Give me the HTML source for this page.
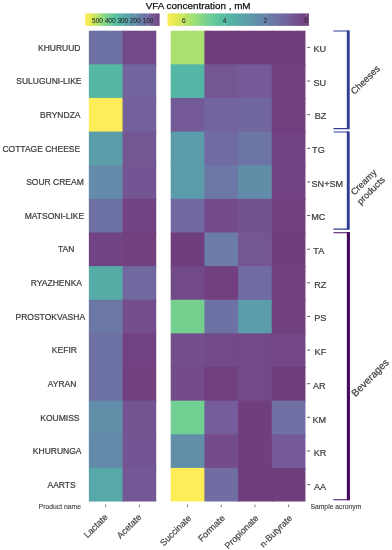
<!DOCTYPE html>
<html><head><meta charset="utf-8"><title>VFA concentration heatmap</title>
<style>html,body{margin:0;padding:0;background:#fff;}svg{display:block}text{font-family:"Liberation Sans",Arial,sans-serif;}</style></head><body>
<svg width="392" height="550" viewBox="0 0 392 550">
<rect width="392" height="550" fill="#fff"/>
<defs><linearGradient id="gl" x1="0" y1="0" x2="1" y2="0"><stop offset="0.0000" stop-color="#feed59"/><stop offset="0.0625" stop-color="#e7ea50"/><stop offset="0.1250" stop-color="#c7e65e"/><stop offset="0.1875" stop-color="#a7e073"/><stop offset="0.2500" stop-color="#8ad884"/><stop offset="0.3125" stop-color="#71ce93"/><stop offset="0.3750" stop-color="#5ec49d"/><stop offset="0.4375" stop-color="#55b9a4"/><stop offset="0.5000" stop-color="#55ada7"/><stop offset="0.5625" stop-color="#59a2a9"/><stop offset="0.6250" stop-color="#5e96a9"/><stop offset="0.6875" stop-color="#638ba9"/><stop offset="0.7500" stop-color="#697ea7"/><stop offset="0.8125" stop-color="#6e71a4"/><stop offset="0.8750" stop-color="#73629d"/><stop offset="0.9375" stop-color="#745391"/><stop offset="1.0000" stop-color="#724181"/></linearGradient><linearGradient id="gr" x1="0" y1="0" x2="1" y2="0"><stop offset="0.0000" stop-color="#feed59"/><stop offset="0.0625" stop-color="#dfe951"/><stop offset="0.1250" stop-color="#bfe463"/><stop offset="0.1875" stop-color="#9fde77"/><stop offset="0.2500" stop-color="#81d589"/><stop offset="0.3125" stop-color="#6acb96"/><stop offset="0.3750" stop-color="#5ac09f"/><stop offset="0.4375" stop-color="#54b4a5"/><stop offset="0.5000" stop-color="#57a9a8"/><stop offset="0.5625" stop-color="#5b9ea9"/><stop offset="0.6250" stop-color="#6091a9"/><stop offset="0.6875" stop-color="#6585a8"/><stop offset="0.7500" stop-color="#6b78a6"/><stop offset="0.8125" stop-color="#7169a1"/><stop offset="0.8750" stop-color="#745a97"/><stop offset="0.9375" stop-color="#734a89"/><stop offset="1.0000" stop-color="#713e7d"/></linearGradient></defs>
<text x="198.2" y="9.3" font-size="9.9" text-anchor="middle" fill="#111" stroke="#111" stroke-width=".25">VFA concentration , mM</text>
<rect x="85.2" y="13.4" width="74.4" height="12.5" fill="url(#gl)"/>
<rect x="167.5" y="13.4" width="141.4" height="12.5" fill="url(#gr)"/>
<path d="M97.55 13.4v2.5M97.55 25.9v-2.5" stroke="#fff" stroke-opacity=".45" stroke-width=".5"/>
<text x="97.55" y="23" font-size="6.5" text-anchor="middle" fill="#262626" stroke="#262626" stroke-width=".06">500</text>
<path d="M110.18 13.4v2.5M110.18 25.9v-2.5" stroke="#fff" stroke-opacity=".45" stroke-width=".5"/>
<text x="110.18" y="23" font-size="6.5" text-anchor="middle" fill="#262626" stroke="#262626" stroke-width=".06">400</text>
<path d="M122.81 13.4v2.5M122.81 25.9v-2.5" stroke="#fff" stroke-opacity=".45" stroke-width=".5"/>
<text x="122.81" y="23" font-size="6.5" text-anchor="middle" fill="#262626" stroke="#262626" stroke-width=".06">300</text>
<path d="M135.44 13.4v2.5M135.44 25.9v-2.5" stroke="#fff" stroke-opacity=".45" stroke-width=".5"/>
<text x="135.44" y="23" font-size="6.5" text-anchor="middle" fill="#262626" stroke="#262626" stroke-width=".06">200</text>
<path d="M148.07 13.4v2.5M148.07 25.9v-2.5" stroke="#fff" stroke-opacity=".45" stroke-width=".5"/>
<text x="148.07" y="23" font-size="6.5" text-anchor="middle" fill="#262626" stroke="#262626" stroke-width=".06">100</text>
<path d="M183.70 13.4v2.5M183.70 25.9v-2.5" stroke="#fff" stroke-opacity=".45" stroke-width=".5"/>
<text x="183.70" y="23" font-size="6.5" text-anchor="middle" fill="#262626" stroke="#262626" stroke-width=".06">6</text>
<path d="M224.50 13.4v2.5M224.50 25.9v-2.5" stroke="#fff" stroke-opacity=".45" stroke-width=".5"/>
<text x="224.50" y="23" font-size="6.5" text-anchor="middle" fill="#262626" stroke="#262626" stroke-width=".06">4</text>
<path d="M265.30 13.4v2.5M265.30 25.9v-2.5" stroke="#fff" stroke-opacity=".45" stroke-width=".5"/>
<text x="265.30" y="23" font-size="6.5" text-anchor="middle" fill="#262626" stroke="#262626" stroke-width=".06">2</text>
<path d="M306.10 13.4v2.5M306.10 25.9v-2.5" stroke="#fff" stroke-opacity=".45" stroke-width=".5"/>
<text x="306.10" y="23" font-size="6.5" text-anchor="middle" fill="#262626" stroke="#262626" stroke-width=".06">0</text>
<g>
<rect x="88.85" y="30.70" width="34.89" height="34.83" fill="#6e71a4"/>
<rect x="122.54" y="30.70" width="33.69" height="34.83" fill="#734a89"/>
<rect x="170.70" y="30.70" width="34.89" height="34.83" fill="#abe070"/>
<rect x="204.39" y="30.70" width="34.89" height="34.83" fill="#713e7d"/>
<rect x="238.08" y="30.70" width="34.89" height="34.83" fill="#713e7d"/>
<rect x="271.77" y="30.70" width="33.69" height="34.83" fill="#713e7d"/>
<rect x="88.85" y="64.33" width="34.89" height="34.83" fill="#55b8a4"/>
<rect x="122.54" y="64.33" width="33.69" height="34.83" fill="#72659e"/>
<rect x="170.70" y="64.33" width="34.89" height="34.83" fill="#54b6a5"/>
<rect x="204.39" y="64.33" width="34.89" height="34.83" fill="#745693"/>
<rect x="238.08" y="64.33" width="34.89" height="34.83" fill="#745a97"/>
<rect x="271.77" y="64.33" width="33.69" height="34.83" fill="#713f7e"/>
<rect x="88.85" y="97.96" width="34.89" height="34.83" fill="#feed59"/>
<rect x="122.54" y="97.96" width="33.69" height="34.83" fill="#73609c"/>
<rect x="170.70" y="97.96" width="34.89" height="34.83" fill="#745b98"/>
<rect x="204.39" y="97.96" width="34.89" height="34.83" fill="#72649e"/>
<rect x="238.08" y="97.96" width="34.89" height="34.83" fill="#72669f"/>
<rect x="271.77" y="97.96" width="33.69" height="34.83" fill="#713f7e"/>
<rect x="88.85" y="131.59" width="34.89" height="34.83" fill="#5b9da9"/>
<rect x="122.54" y="131.59" width="33.69" height="34.83" fill="#745693"/>
<rect x="170.70" y="131.59" width="34.89" height="34.83" fill="#5c9ba9"/>
<rect x="204.39" y="131.59" width="34.89" height="34.83" fill="#706ba2"/>
<rect x="238.08" y="131.59" width="34.89" height="34.83" fill="#6d75a5"/>
<rect x="271.77" y="131.59" width="33.69" height="34.83" fill="#724181"/>
<rect x="88.85" y="165.22" width="34.89" height="34.83" fill="#628ca9"/>
<rect x="122.54" y="165.22" width="33.69" height="34.83" fill="#745492"/>
<rect x="170.70" y="165.22" width="34.89" height="34.83" fill="#5c9ba9"/>
<rect x="204.39" y="165.22" width="34.89" height="34.83" fill="#6b78a6"/>
<rect x="238.08" y="165.22" width="34.89" height="34.83" fill="#628da9"/>
<rect x="271.77" y="165.22" width="33.69" height="34.83" fill="#724181"/>
<rect x="88.85" y="198.85" width="34.89" height="34.83" fill="#6e71a4"/>
<rect x="122.54" y="198.85" width="33.69" height="34.83" fill="#724282"/>
<rect x="170.70" y="198.85" width="34.89" height="34.83" fill="#7169a1"/>
<rect x="204.39" y="198.85" width="34.89" height="34.83" fill="#744c8b"/>
<rect x="238.08" y="198.85" width="34.89" height="34.83" fill="#745290"/>
<rect x="271.77" y="198.85" width="33.69" height="34.83" fill="#72407f"/>
<rect x="88.85" y="232.48" width="34.89" height="34.83" fill="#724383"/>
<rect x="122.54" y="232.48" width="33.69" height="34.83" fill="#72407f"/>
<rect x="170.70" y="232.48" width="34.89" height="34.83" fill="#713e7d"/>
<rect x="204.39" y="232.48" width="34.89" height="34.83" fill="#6a7ca7"/>
<rect x="238.08" y="232.48" width="34.89" height="34.83" fill="#745693"/>
<rect x="271.77" y="232.48" width="33.69" height="34.83" fill="#713e7d"/>
<rect x="88.85" y="266.11" width="34.89" height="34.83" fill="#56ada8"/>
<rect x="122.54" y="266.11" width="33.69" height="34.83" fill="#7168a0"/>
<rect x="170.70" y="266.11" width="34.89" height="34.83" fill="#734a89"/>
<rect x="204.39" y="266.11" width="34.89" height="34.83" fill="#72407f"/>
<rect x="238.08" y="266.11" width="34.89" height="34.83" fill="#706ba2"/>
<rect x="271.77" y="266.11" width="33.69" height="34.83" fill="#713f7e"/>
<rect x="88.85" y="299.74" width="34.89" height="34.83" fill="#6b78a6"/>
<rect x="122.54" y="299.74" width="33.69" height="34.83" fill="#744e8c"/>
<rect x="170.70" y="299.74" width="34.89" height="34.83" fill="#75d090"/>
<rect x="204.39" y="299.74" width="34.89" height="34.83" fill="#6e71a4"/>
<rect x="238.08" y="299.74" width="34.89" height="34.83" fill="#5b9ea9"/>
<rect x="271.77" y="299.74" width="33.69" height="34.83" fill="#713f7e"/>
<rect x="88.85" y="333.37" width="34.89" height="34.83" fill="#6e71a4"/>
<rect x="122.54" y="333.37" width="33.69" height="34.83" fill="#724181"/>
<rect x="170.70" y="333.37" width="34.89" height="34.83" fill="#744f8d"/>
<rect x="204.39" y="333.37" width="34.89" height="34.83" fill="#734a89"/>
<rect x="238.08" y="333.37" width="34.89" height="34.83" fill="#734988"/>
<rect x="271.77" y="333.37" width="33.69" height="34.83" fill="#734786"/>
<rect x="88.85" y="367.00" width="34.89" height="34.83" fill="#6e71a4"/>
<rect x="122.54" y="367.00" width="33.69" height="34.83" fill="#72407f"/>
<rect x="170.70" y="367.00" width="34.89" height="34.83" fill="#744c8b"/>
<rect x="204.39" y="367.00" width="34.89" height="34.83" fill="#713f7e"/>
<rect x="238.08" y="367.00" width="34.89" height="34.83" fill="#734a89"/>
<rect x="271.77" y="367.00" width="33.69" height="34.83" fill="#713e7d"/>
<rect x="88.85" y="400.63" width="34.89" height="34.83" fill="#618ea9"/>
<rect x="122.54" y="400.63" width="33.69" height="34.83" fill="#745391"/>
<rect x="170.70" y="400.63" width="34.89" height="34.83" fill="#72cf92"/>
<rect x="204.39" y="400.63" width="34.89" height="34.83" fill="#745d9a"/>
<rect x="238.08" y="400.63" width="34.89" height="34.83" fill="#713e7d"/>
<rect x="271.77" y="400.63" width="33.69" height="34.83" fill="#6f70a4"/>
<rect x="88.85" y="434.26" width="34.89" height="34.83" fill="#638aa9"/>
<rect x="122.54" y="434.26" width="33.69" height="34.83" fill="#745492"/>
<rect x="170.70" y="434.26" width="34.89" height="34.83" fill="#618ea9"/>
<rect x="204.39" y="434.26" width="34.89" height="34.83" fill="#744c8b"/>
<rect x="238.08" y="434.26" width="34.89" height="34.83" fill="#713e7d"/>
<rect x="271.77" y="434.26" width="33.69" height="34.83" fill="#745997"/>
<rect x="88.85" y="467.89" width="34.89" height="33.63" fill="#57a8a8"/>
<rect x="122.54" y="467.89" width="33.69" height="33.63" fill="#745895"/>
<rect x="170.70" y="467.89" width="34.89" height="33.63" fill="#feed59"/>
<rect x="204.39" y="467.89" width="34.89" height="33.63" fill="#706da3"/>
<rect x="238.08" y="467.89" width="34.89" height="33.63" fill="#713e7d"/>
<rect x="271.77" y="467.89" width="33.69" height="33.63" fill="#713e7d"/>
</g>
<text x="80.50" y="50.62" font-size="8.5" text-anchor="end" fill="#3c3c3c" stroke="#3c3c3c" stroke-width=".22">KHURUUD</text>
<path d="M307.2 47.41h2.9" stroke="#5a5a5a" stroke-width="1"/>
<text x="313.50" y="51.91" font-size="9.1" fill="#3c3c3c" stroke="#3c3c3c" stroke-width=".22">KU</text>
<text x="81.50" y="84.25" font-size="8.5" text-anchor="end" fill="#3c3c3c" stroke="#3c3c3c" stroke-width=".22">SULUGUNI-LIKE</text>
<path d="M307.2 81.05h2.9" stroke="#5a5a5a" stroke-width="1"/>
<text x="313.40" y="85.61" font-size="9.1" fill="#3c3c3c" stroke="#3c3c3c" stroke-width=".22">SU</text>
<text x="80.50" y="117.88" font-size="8.5" text-anchor="end" fill="#3c3c3c" stroke="#3c3c3c" stroke-width=".22">BRYNDZA</text>
<path d="M307.2 114.68h2.9" stroke="#5a5a5a" stroke-width="1"/>
<text x="314.80" y="119.31" font-size="9.1" fill="#3c3c3c" stroke="#3c3c3c" stroke-width=".22">BZ</text>
<text x="80.20" y="151.50" font-size="8.5" text-anchor="end" fill="#3c3c3c" stroke="#3c3c3c" stroke-width=".22">COTTAGE CHEESE</text>
<path d="M307.2 148.31h2.9" stroke="#5a5a5a" stroke-width="1"/>
<text x="312.10" y="153.00" font-size="9.1" fill="#3c3c3c" stroke="#3c3c3c" stroke-width=".22">TG</text>
<text x="83.80" y="185.13" font-size="8.5" text-anchor="end" fill="#3c3c3c" stroke="#3c3c3c" stroke-width=".22">SOUR CREAM</text>
<path d="M307.2 181.94h2.9" stroke="#5a5a5a" stroke-width="1"/>
<text x="311.50" y="186.69" font-size="9.1" fill="#3c3c3c" stroke="#3c3c3c" stroke-width=".22">SN+SM</text>
<text x="84.10" y="218.76" font-size="8.5" text-anchor="end" fill="#3c3c3c" stroke="#3c3c3c" stroke-width=".22">MATSONI-LIKE</text>
<path d="M307.2 215.56h2.9" stroke="#5a5a5a" stroke-width="1"/>
<text x="311.20" y="220.39" font-size="9.1" fill="#3c3c3c" stroke="#3c3c3c" stroke-width=".22">MC</text>
<text x="74.40" y="252.40" font-size="8.5" text-anchor="end" fill="#3c3c3c" stroke="#3c3c3c" stroke-width=".22">TAN</text>
<path d="M307.2 249.20h2.9" stroke="#5a5a5a" stroke-width="1"/>
<text x="313.30" y="254.09" font-size="9.1" fill="#3c3c3c" stroke="#3c3c3c" stroke-width=".22">TA</text>
<text x="82.00" y="286.03" font-size="8.5" text-anchor="end" fill="#3c3c3c" stroke="#3c3c3c" stroke-width=".22">RYAZHENKA</text>
<path d="M307.2 282.82h2.9" stroke="#5a5a5a" stroke-width="1"/>
<text x="314.20" y="287.78" font-size="9.1" fill="#3c3c3c" stroke="#3c3c3c" stroke-width=".22">RZ</text>
<text x="85.10" y="319.66" font-size="8.5" text-anchor="end" fill="#3c3c3c" stroke="#3c3c3c" stroke-width=".22">PROSTOKVASHA</text>
<path d="M307.2 316.45h2.9" stroke="#5a5a5a" stroke-width="1"/>
<text x="314.20" y="321.47" font-size="9.1" fill="#3c3c3c" stroke="#3c3c3c" stroke-width=".22">PS</text>
<text x="76.90" y="353.29" font-size="8.5" text-anchor="end" fill="#3c3c3c" stroke="#3c3c3c" stroke-width=".22">KEFIR</text>
<path d="M307.2 350.08h2.9" stroke="#5a5a5a" stroke-width="1"/>
<text x="314.60" y="355.17" font-size="9.1" fill="#3c3c3c" stroke="#3c3c3c" stroke-width=".22">KF</text>
<text x="76.40" y="386.92" font-size="8.5" text-anchor="end" fill="#3c3c3c" stroke="#3c3c3c" stroke-width=".22">AYRAN</text>
<path d="M307.2 383.71h2.9" stroke="#5a5a5a" stroke-width="1"/>
<text x="313.00" y="388.86" font-size="9.1" fill="#3c3c3c" stroke="#3c3c3c" stroke-width=".22">AR</text>
<text x="79.50" y="420.55" font-size="8.5" text-anchor="end" fill="#3c3c3c" stroke="#3c3c3c" stroke-width=".22">KOUMISS</text>
<path d="M307.2 417.34h2.9" stroke="#5a5a5a" stroke-width="1"/>
<text x="312.40" y="422.56" font-size="9.1" fill="#3c3c3c" stroke="#3c3c3c" stroke-width=".22">KM</text>
<text x="81.50" y="454.18" font-size="8.5" text-anchor="end" fill="#3c3c3c" stroke="#3c3c3c" stroke-width=".22">KHURUNGA</text>
<path d="M307.2 450.98h2.9" stroke="#5a5a5a" stroke-width="1"/>
<text x="313.70" y="456.25" font-size="9.1" fill="#3c3c3c" stroke="#3c3c3c" stroke-width=".22">KR</text>
<text x="75.70" y="487.81" font-size="8.5" text-anchor="end" fill="#3c3c3c" stroke="#3c3c3c" stroke-width=".22">AARTS</text>
<path d="M307.2 484.61h2.9" stroke="#5a5a5a" stroke-width="1"/>
<text x="313.90" y="489.95" font-size="9.1" fill="#3c3c3c" stroke="#3c3c3c" stroke-width=".22">AA</text>
<path d="M105.69 504.6v2.5" stroke="#666" stroke-width=".9"/>
<text transform="translate(108.39 517.60) rotate(-45)" font-size="9" text-anchor="end" fill="#444" stroke="#444" stroke-width=".2">Lactate</text>
<path d="M139.38 504.6v2.5" stroke="#666" stroke-width=".9"/>
<text transform="translate(142.08 517.60) rotate(-45)" font-size="9" text-anchor="end" fill="#444" stroke="#444" stroke-width=".2">Acetate</text>
<path d="M187.54 504.6v2.5" stroke="#666" stroke-width=".9"/>
<text transform="translate(191.74 518.60) rotate(-45)" font-size="9" text-anchor="end" fill="#444" stroke="#444" stroke-width=".2">Succinate</text>
<path d="M221.23 504.6v2.5" stroke="#666" stroke-width=".9"/>
<text transform="translate(225.43 518.60) rotate(-45)" font-size="9" text-anchor="end" fill="#444" stroke="#444" stroke-width=".2">Formate</text>
<path d="M254.92 504.6v2.5" stroke="#666" stroke-width=".9"/>
<text transform="translate(259.12 518.60) rotate(-45)" font-size="9" text-anchor="end" fill="#444" stroke="#444" stroke-width=".2">Propionate</text>
<path d="M288.62 504.6v2.5" stroke="#666" stroke-width=".9"/>
<text transform="translate(292.81 518.60) rotate(-45)" font-size="9" text-anchor="end" fill="#444" stroke="#444" stroke-width=".2">n-Butyrate</text>
<text x="38.6" y="509.1" font-size="6.8" fill="#444" stroke="#444" stroke-width=".12">Product name</text>
<text x="310.4" y="509.1" font-size="6.8" fill="#444" stroke="#444" stroke-width=".12">Sample acronym</text>
<path d="M333.5 31.00H348.25M333.5 128.60H348.25" stroke="#303c94" stroke-width="1.05" fill="none"/>
<path d="M348.25 30.38V129.22" stroke="#303c94" stroke-width="2.90" fill="none"/>
<path d="M333.5 132.00H348.25M333.5 229.10H348.25" stroke="#303c94" stroke-width="1.05" fill="none"/>
<path d="M348.25 131.38V229.72" stroke="#303c94" stroke-width="2.90" fill="none"/>
<path d="M333.5 232.70H348.40M333.5 499.70H348.40" stroke="#43095f" stroke-width="1.05" fill="none"/>
<path d="M348.40 232.08V500.32" stroke="#43095f" stroke-width="3.10" fill="none"/>
<text transform="translate(354.5 95.1) rotate(-45)" font-size="9.3" fill="#3c3c3c" stroke="#3c3c3c" stroke-width=".2">Cheeses</text>
<text transform="translate(354.4 195.8) rotate(-45)" font-size="9.2" fill="#3c3c3c" stroke="#3c3c3c" stroke-width=".2">Creamy</text>
<text transform="translate(360.7 205.2) rotate(-45)" font-size="9.2" fill="#3c3c3c" stroke="#3c3c3c" stroke-width=".2">products</text>
<text transform="translate(355.5 397.2) rotate(-45)" font-size="10.1" fill="#3c3c3c" stroke="#3c3c3c" stroke-width=".2">Beverages</text>
</svg></body></html>
